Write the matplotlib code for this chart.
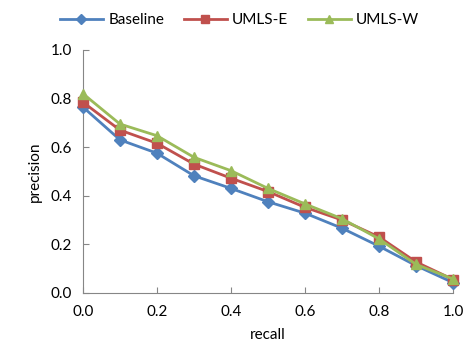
import matplotlib.pyplot as plt

# recall levels and precision per system
recall = [0.0, 0.1, 0.2, 0.3, 0.4, 0.5, 0.6, 0.7, 0.8, 0.9, 1.0]
baseline = [0.765, 0.63, 0.575, 0.482, 0.43, 0.375, 0.328, 0.266, 0.192, 0.112, 0.042]
umls_e = [0.785, 0.67, 0.616, 0.53, 0.472, 0.417, 0.352, 0.30, 0.23, 0.127, 0.055]
umls_w = [0.82, 0.695, 0.647, 0.558, 0.503, 0.43, 0.366, 0.305, 0.222, 0.117, 0.057]

plt.rcParams['font.family'] = ['Lato', 'DejaVu Sans']

fig = plt.figure(figsize=(4.74, 3.47), dpi=100)
ax = fig.add_axes([0.175, 0.156, 0.781, 0.70])

ax.plot(recall, baseline, color='#4F81BD', marker='D', markersize=6, lw=2,
        label='Baseline', clip_on=False, zorder=3)
ax.plot(recall, umls_e, color='#C0504D', marker='s', markersize=7, lw=2,
        label='UMLS-E', clip_on=False, zorder=4)
ax.plot(recall, umls_w, color='#9BBB59', marker='^', markersize=7, lw=2,
        label='UMLS-W', clip_on=False, zorder=5)

ax.set_xlim(0, 1)
ax.set_ylim(0, 1)
ax.set_xticks([0.0, 0.2, 0.4, 0.6, 0.8, 1.0])
ax.set_yticks([0.0, 0.2, 0.4, 0.6, 0.8, 1.0])
ax.xaxis.set_major_formatter(plt.FormatStrFormatter('%.1f'))
ax.yaxis.set_major_formatter(plt.FormatStrFormatter('%.1f'))
ax.tick_params(direction='in', length=4, color='#868686', labelsize=11)
ax.tick_params(axis='x', pad=9)
ax.tick_params(axis='y', pad=8)

for s in ['top', 'right']:
    ax.spines[s].set_visible(False)
for s in ['left', 'bottom']:
    ax.spines[s].set_color('#868686')

ax.set_xlabel('recall', fontsize=11, labelpad=6)
ax.set_ylabel('precision', fontsize=11, labelpad=6)

leg = fig.legend(loc='upper left', bbox_to_anchor=(60 / 474, 1 - 13 / 347), ncol=3,
                 frameon=False, fontsize=11, handlelength=2.8, handletextpad=0.35,
                 columnspacing=1.3, borderpad=0, borderaxespad=0, markerscale=0.85)

fig.savefig('out.png', dpi=100)
